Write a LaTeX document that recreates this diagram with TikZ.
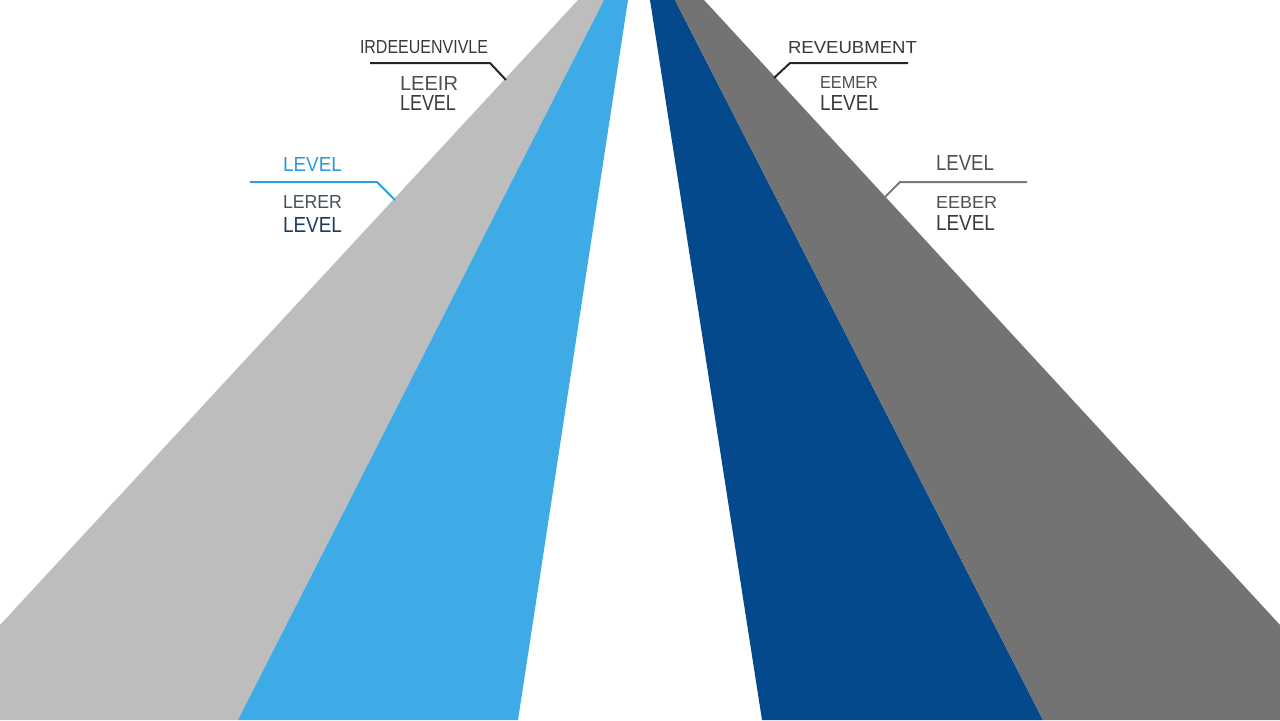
\documentclass[tikz,border=0pt]{standalone}
\usepackage{fontspec}
\setmainfont{Liberation Sans}
\usepackage{graphicx}
\definecolor{lgray}{HTML}{BDBDBD}
\definecolor{skyb}{HTML}{3FABE6}
\definecolor{navyb}{HTML}{03498C}
\definecolor{dgray}{HTML}{737373}
\definecolor{txtdark}{HTML}{3A3A3A}
\definecolor{txtmid}{HTML}{505050}
\definecolor{txtblue}{HTML}{2C9ADA}
\definecolor{txtnavy}{HTML}{1E3A5E}
\definecolor{txtslate}{HTML}{46505E}
\definecolor{lineblue}{HTML}{2EA0E0}
\definecolor{linegray}{HTML}{7A7A7A}
\newlength{\pxunit}
\setlength{\pxunit}{0.03cm}
\newcommand{\fitbox}[3]{\resizebox{#1\pxunit}{#2\pxunit}{#3}}
\tikzset{
  lbl/.style={anchor=base west, inner sep=0pt, outer sep=0pt},
  leader/.style={line width=1.7pt, line join=miter}
}
\begin{document}
\begin{tikzpicture}[x=0.03cm,y=-0.03cm]
\fill[white] (0,0) rectangle (1280,720);
\useasboundingbox (0,0) rectangle (1280,720);
% wedges
\fill[lgray] (578,0) -- (604,0) -- (238,720) -- (0,720) -- (0,625) -- cycle;
\fill[skyb] (604,0) -- (628,0) -- (518,720) -- (238,720) -- cycle;
\fill[navyb] (650,0) -- (675,0) -- (1043,720) -- (762,720) -- cycle;
\fill[dgray] (675,0) -- (704,0) -- (1280,625) -- (1280,720) -- (1043,720) -- cycle;
% top left labels
\node[lbl, text=txtdark] (tlt) at (360,53) {\fitbox{128}{13}{IRDEEUENVIVLE}};
\node[lbl, text=txtmid] (tla) at (400,90) {\fitbox{58}{14}{LEEIR}};
\node[lbl, text=txtdark] (tlb) at (400,110) {\fitbox{56}{15}{LEVEL}};
\coordinate (tl1) at (370,63);
\coordinate (tl2) at (490,63);
\coordinate (tl3) at (506,80);
\draw[leader, draw=black!85] (tl1) -- (tl2) -- (tl3);
% top right labels
\node[lbl, text=txtdark] (trt) at (788,53) {\fitbox{129}{12}{REVEUBMENT}};
\node[lbl, text=txtmid] (tra) at (820,88) {\fitbox{58}{12}{EEMER}};
\node[lbl, text=txtdark] (trb) at (820,110) {\fitbox{59}{15}{LEVEL}};
\coordinate (tr1) at (774,78);
\coordinate (tr2) at (790,63);
\coordinate (tr3) at (908,63);
\draw[leader, draw=black!85] (tr1) -- (tr2) -- (tr3);
% middle left labels
\node[lbl, text=txtblue] (mlt) at (283,171) {\fitbox{59}{14}{LEVEL}};
\node[lbl, text=txtslate] (mla) at (283,208) {\fitbox{59}{13}{LERER}};
\node[lbl, text=txtnavy] (mlb) at (283,232) {\fitbox{59}{15}{LEVEL}};
\coordinate (ml1) at (250,182);
\coordinate (ml2) at (377,182);
\coordinate (ml3) at (395,200);
\draw[leader, draw=lineblue] (ml1) -- (ml2) -- (ml3);
% middle right labels
\node[lbl, text=txtmid] (mrt) at (936,170) {\fitbox{58}{15}{LEVEL}};
\node[lbl, text=txtmid] (mra) at (936,208) {\fitbox{61}{12}{EEBER}};
\node[lbl, text=txtdark] (mrb) at (936,230) {\fitbox{59}{15}{LEVEL}};
\coordinate (mr1) at (885,197);
\coordinate (mr2) at (900,182);
\coordinate (mr3) at (1027,182);
\draw[leader, draw=linegray] (mr1) -- (mr2) -- (mr3);
\end{tikzpicture}
\end{document}
